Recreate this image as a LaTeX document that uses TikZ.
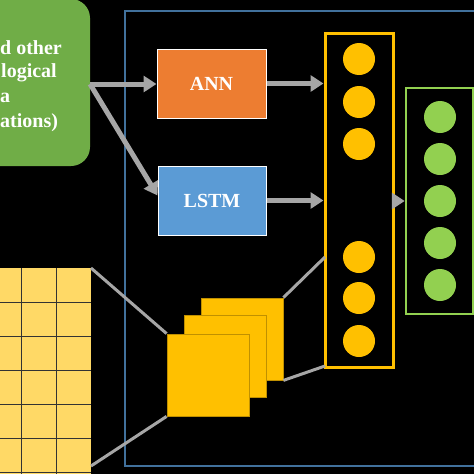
\documentclass[tikz,border=0pt]{standalone}
\usepackage{fontspec}
\setmainfont{Liberation Serif}
\usetikzlibrary{arrows.meta}
\definecolor{framecol}{HTML}{41719C}
\definecolor{srcgreen}{HTML}{70AD47}
\definecolor{annorange}{HTML}{ED7D31}
\definecolor{lstmblue}{HTML}{5B9BD5}
\definecolor{gold}{HTML}{FFC000}
\definecolor{goldline}{HTML}{C09000}
\definecolor{lightgreen}{HTML}{92D050}
\definecolor{gridyellow}{HTML}{FFD966}
\definecolor{arrowgray}{HTML}{A6A6A6}
\begin{document}
\begin{tikzpicture}[x=1pt,y=-1pt,
  nnbox/.style={draw=white, line width=1pt, text=white, font=\fontsize{20}{24}\selectfont\bfseries, inner sep=0pt},
  srctext/.style={text=white, font=\fontsize{20}{24}\selectfont\bfseries, inner sep=0pt, anchor=base west},
  garrow/.style={draw=arrowgray, line width=5pt, -{Triangle[width=16pt,length=13pt]}},
  gline/.style={draw=arrowgray, line width=3pt},
  goldnode/.style={circle, fill=gold, minimum size=32pt, inner sep=0pt},
  greennode/.style={circle, fill=lightgreen, minimum size=32pt, inner sep=0pt},
  fmap/.style={draw=goldline, line width=0.8pt, fill=gold, minimum size=82pt, inner sep=0pt}
]
\useasboundingbox (0,0) rectangle (474,474);
\clip (0,0) rectangle (474,474);
\fill[black] (0,0) rectangle (474,474);

% outer blue frame
\draw[framecol, line width=2pt] (125,11) rectangle (490,466);

% source box
\node[fill=srcgreen, rounded corners=19pt, minimum width=140pt, minimum height=167pt, inner sep=0pt] (src) at (20,82.5) {};
\node[srctext] (t1) at (0,54) {d other};
\node[srctext] (t2) at (1,77) {logical};
\node[srctext] (t3) at (0,102) {a};
\node[srctext] (t4) at (0,127) {ations)};
\coordinate (srcout) at (90,84);

% ANN and LSTM
\node[nnbox, fill=annorange, minimum width=109pt, minimum height=69pt] (ann) at (211.5,83.5) {ANN};
\node[nnbox, fill=lstmblue, minimum width=108pt, minimum height=69pt] (lstm) at (212,200.5) {LSTM};

% columns
\node[draw=gold, line width=3pt, minimum width=68pt, minimum height=334pt, inner sep=0pt] (ycol) at (359,200) {};
\node[draw=lightgreen, line width=2.5pt, minimum width=67pt, minimum height=226pt, inner sep=0pt] (gcol) at (439.5,201) {};

\foreach \y [count=\i] in {59,102,144,257,298,341}
  \node[goldnode] (y\i) at (359,\y) {};
\foreach \y [count=\i] in {117,159,201,243,285}
  \node[greennode] (g\i) at (440,\y) {};

% input grid
\node[fill=gridyellow, minimum width=110pt, minimum height=212pt, inner sep=0pt, anchor=north east] (grid) at (91,268) {};
\foreach \x in {21,56} \draw[black!80, line width=1pt] (\x,268) -- (\x,480);
\foreach \y in {302,336,370,404,438,472} \draw[black!80, line width=1pt] (-20,\y) -- (91,\y);
\coordinate (gridTR) at (91,268);
\coordinate (gridBR) at (91,466);

% feature maps
\node[fmap] (fm3) at (242,339) {};
\node[fmap] (fm2) at (225,356) {};
\node[fmap] (fm1) at (208,375) {};

% connectors
\draw[garrow] (srcout) -- (ann.west |- srcout);
\draw[garrow] (srcout) -- ([yshift=5pt]lstm.west);
\draw[garrow] (ann.east) -- (ann.east -| ycol.west);
\draw[garrow] (lstm.east) -- (lstm.east -| ycol.west);
\coordinate (ymid) at (393,201);
\draw[garrow] (ymid) -- (gcol.west);

\coordinate (yin1) at (325,257);
\coordinate (yin2) at (325,366);
\draw[gline] (gridTR) -- (fm1.north west);
\draw[gline] (gridBR) -- (fm1.south west);
\draw[gline] (fm3.north east) -- (yin1);
\draw[gline] (fm3.south east) -- (yin2);
\end{tikzpicture}
\end{document}
